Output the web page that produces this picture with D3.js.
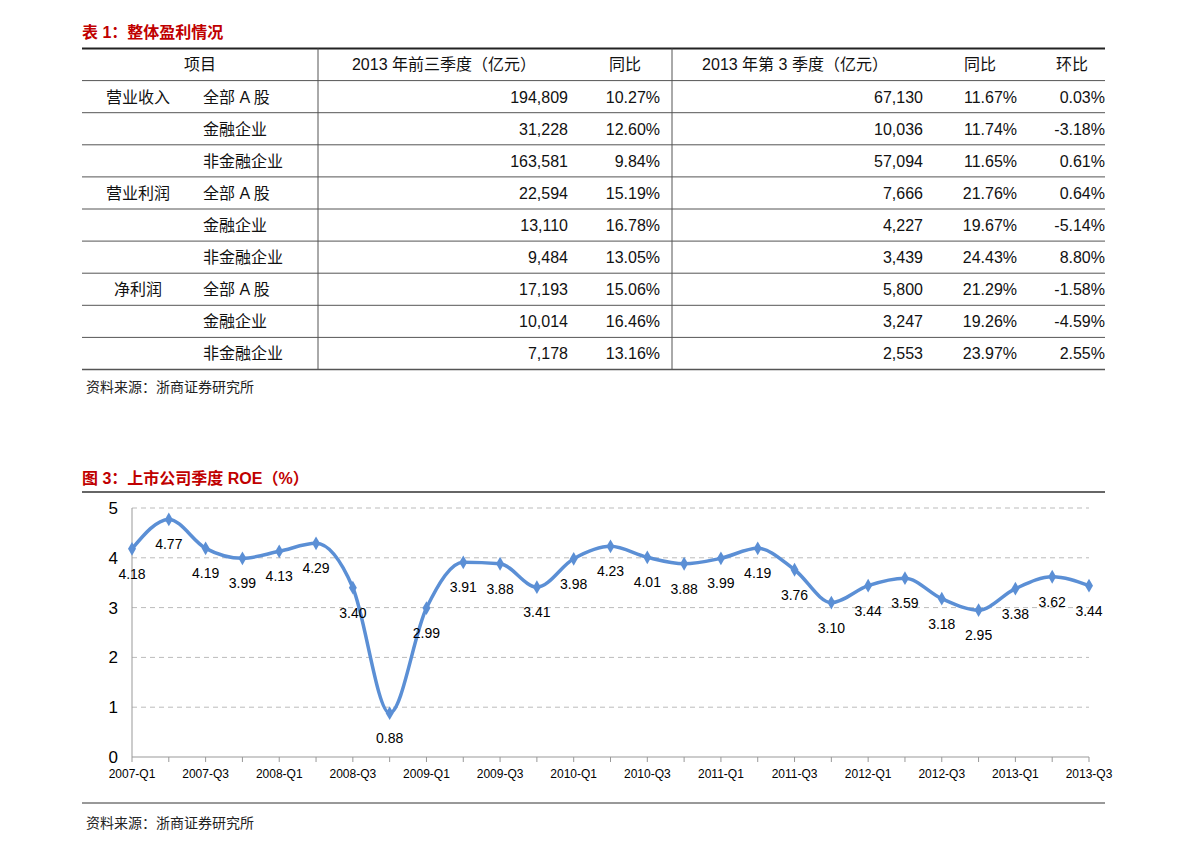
<!DOCTYPE html><html><head><meta charset="utf-8"><script src="https://cdn.jsdelivr.net/npm/d3@7"></script>
<style>body{margin:0;background:#fff}text{font-family:"Liberation Sans","Noto Sans CJK SC",sans-serif}</style></head><body>
<svg id="c" width="1191" height="854"></svg>
<script>
const headers=["项目","2013 年前三季度（亿元）","同比","2013 年第 3 季度（亿元）","同比","环比"];
const groups=["营业收入","","","营业利润","","","净利润","",""];
const items=["全部 A 股","金融企业","非金融企业","全部 A 股","金融企业","非金融企业","全部 A 股","金融企业","非金融企业"];
const ytdVal=["194,809","31,228","163,581","22,594","13,110","9,484","17,193","10,014","7,178"];
const ytdYoy=["10.27%","12.60%","9.84%","15.19%","16.78%","13.05%","15.06%","16.46%","13.16%"];
const q3Val=["67,130","10,036","57,094","7,666","4,227","3,439","5,800","3,247","2,553"];
const q3Yoy=["11.67%","11.74%","11.65%","21.76%","19.67%","24.43%","21.29%","19.26%","23.97%"];
const q3Qoq=["0.03%","-3.18%","0.61%","0.64%","-5.14%","8.80%","-1.58%","-4.59%","2.55%"];
const quarters=["2007-Q1","2007-Q2","2007-Q3","2007-Q4","2008-Q1","2008-Q2","2008-Q3","2008-Q4","2009-Q1","2009-Q2","2009-Q3","2009-Q4","2010-Q1","2010-Q2","2010-Q3","2010-Q4","2011-Q1","2011-Q2","2011-Q3","2011-Q4","2012-Q1","2012-Q2","2012-Q3","2012-Q4","2013-Q1","2013-Q2","2013-Q3"];
</script>
<script>
// chart values (one per quarter in chart, 27 points? picture shows 20 points)
</script>
<script>
const roeQuarters=quarters.filter((q,i)=>true);
</script>
<script>
const svg=d3.select("#c");
const red="#c00000";
svg.append("text").attr("x",82).attr("y",38).attr("fill",red).attr("font-size",16).attr("font-weight","bold").text("表 1：整体盈利情况");
const rowY=d3.range(11).map(i=>48.5+i*32.1);
const L=82,R=1105,colX=[82,318,672,1105];
svg.append("line").attr("x1",L).attr("x2",R).attr("y1",rowY[0]).attr("y2",rowY[0]).attr("stroke","#222").attr("stroke-width",2);
rowY.slice(1).forEach((y,i)=>svg.append("line").attr("x1",L).attr("x2",R).attr("y1",y).attr("y2",y).attr("stroke","#555").attr("stroke-width",i==9?1.5:1));
[318,672].forEach(x=>svg.append("line").attr("x1",x).attr("x2",x).attr("y1",rowY[0]).attr("y2",rowY[10]).attr("stroke","#555"));
const tc=(x,y,t,a,w)=>svg.append("text").attr("x",x).attr("y",y).attr("text-anchor",a).attr("font-size",16).attr("font-weight",w||"normal").attr("fill","#111").text(t);
tc(200,70,"项目","middle");
tc(444,70,"2013 年前三季度（亿元）","middle");
tc(625,70,"同比","middle");
tc(795,70,"2013 年第 3 季度（亿元）","middle");
tc(980,70,"同比","middle");
tc(1072,70,"环比","middle");
items.forEach((t,i)=>{const y=rowY[i+1]+22;
 if(groups[i])tc(138,y,groups[i],"middle");
 tc(203,y,t,"start");
 tc(568,y,ytdVal[i],"end");tc(660,y,ytdYoy[i],"end");
 tc(923,y,q3Val[i],"end");tc(1017,y,q3Yoy[i],"end");tc(1105,y,q3Qoq[i],"end");});
svg.append("text").attr("x",86).attr("y",392).attr("font-size",14).attr("fill","#222").text("资料来源：浙商证券研究所");

// chart
const chartQ=["2007-Q1","2007-Q2","2007-Q3","2007-Q4","2008-Q1","2008-Q2","2008-Q3","2008-Q4","2009-Q1","2009-Q2","2009-Q3","2009-Q4","2010-Q1","2010-Q2","2010-Q3","2010-Q4","2011-Q1","2011-Q2","2011-Q3","2011-Q4","2012-Q1","2012-Q2","2012-Q3","2012-Q4","2013-Q1","2013-Q2","2013-Q3"];
const roe=[4.18,4.77,4.19,3.99,4.13,4.29,3.40,0.88,2.99,3.91,3.88,3.41,3.98,4.23,4.01,3.88,3.99,4.19,3.76,3.10,3.44,3.59,3.18,2.95,3.38,3.62,3.44];
const yTicks=[0,1,2,3,4,5];
svg.append("text").attr("x",82).attr("y",484).attr("fill",red).attr("font-size",16).attr("font-weight","bold").text("图 3：上市公司季度 ROE（%）");
svg.append("line").attr("x1",L).attr("x2",R).attr("y1",492).attr("y2",492).attr("stroke","#333").attr("stroke-width",1.5);
const x=d3.scalePoint().domain(chartQ).range([132,1089]);
const y=d3.scaleLinear().domain([0,5]).range([757,508]);
yTicks.forEach(t=>{ if(t>0) svg.append("line").attr("x1",132).attr("x2",1089).attr("y1",y(t)).attr("y2",y(t)).attr("stroke","#bbb").attr("stroke-dasharray","5,4");
 svg.append("text").attr("x",118).attr("y",y(t)+6).attr("text-anchor","end").attr("font-size",17).text(t);});
svg.append("line").attr("x1",132).attr("x2",132).attr("y1",508).attr("y2",757).attr("stroke","#999");
svg.append("line").attr("x1",132).attr("x2",1089).attr("y1",757).attr("y2",757).attr("stroke","#999");
chartQ.forEach((q,i)=>{svg.append("line").attr("x1",x(q)).attr("x2",x(q)).attr("y1",757).attr("y2",762).attr("stroke","#999");
 if(i%2==0) svg.append("text").attr("x",x(q)).attr("y",778).attr("text-anchor","middle").attr("font-size",12).text(q);});
svg.append("path").datum(roe).attr("fill","none").attr("stroke","#5b8fd5").attr("stroke-width",3.5)
 .attr("d",d3.line().x((d,i)=>x(chartQ[i])).y(d=>y(d)).curve(d3.curveMonotoneX));
svg.selectAll(".m").data(roe).enter().append("path").attr("transform",(d,i)=>`translate(${x(chartQ[i])},${y(d)})`)
 .attr("d",d3.symbol(d3.symbolDiamond,55)).attr("fill","#5b8fd5");
svg.selectAll(".l").data(roe).enter().append("text").attr("x",(d,i)=>x(chartQ[i])).attr("y",d=>y(d)+30)
 .attr("text-anchor","middle").attr("font-size",14).text(d=>d.toFixed(2));
svg.append("line").attr("x1",L).attr("x2",R).attr("y1",803).attr("y2",803).attr("stroke","#333");
svg.append("text").attr("x",86).attr("y",828).attr("font-size",14).attr("fill","#222").text("资料来源：浙商证券研究所");
</script></body></html>
